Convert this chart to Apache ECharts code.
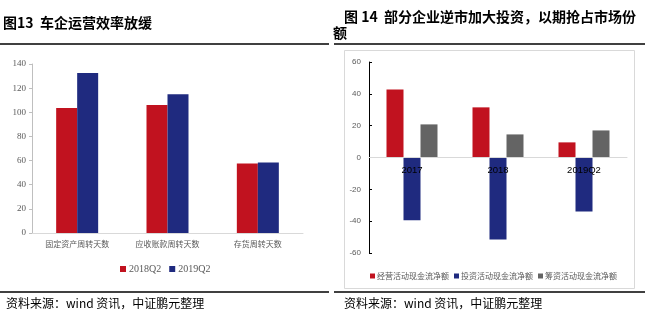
<!DOCTYPE html>
<html>
<head>
<meta charset="utf-8">
<script src="https://cdn.jsdelivr.net/npm/echarts@6/dist/echarts.min.js"></script>
<style>
    html, body { margin: 0; padding: 0; background: #fff; }
    #main { width: 645px; height: 315px; }
</style>
</head>
<body>
<div id="main"></div>
<script>
// 图13 车企运营效率放缓
var turnover_cats = ['固定资产周转天数', '应收账款周转天数', '存货周转天数'];
var turnover_2018q2 = [103.5, 106, 57.5];
var turnover_2019q2 = [132.5, 115, 58.5];

// 图14 部分企业逆市加大投资
var cash_cats = ['2017', '2018', '2019Q2'];
var cash_operating = [42.7, 31.5, 9.5];
var cash_investing = [-39.5, -51.5, -34];
var cash_financing = [20.8, 14.5, 17];

var RED = '#C1121F', NAVY = '#1F2A7F', GREY = '#646464';
var CJK = '"Noto Sans CJK SC", sans-serif';
var SERIF = '"Liberation Serif", "DejaVu Serif", serif';

var myChart = echarts.init(document.getElementById('main'));

var option = {
    animation: false,
    backgroundColor: '#fff',
    graphic: [
        // titles
        {type: 'text', left: 3, top: 16, style: {text: '图13  车企运营效率放缓', font: 'bold 14px ' + CJK, fill: '#000'}},
        {type: 'text', left: 344, top: 10, style: {text: '图 14  部分企业逆市加大投资，以期抢占市场份', font: 'bold 14px ' + CJK, fill: '#000'}},
        {type: 'text', left: 333, top: 26, style: {text: '额', font: 'bold 14px ' + CJK, fill: '#000'}},
        // rules
        {type: 'line', shape: {x1: 0, y1: 44, x2: 329, y2: 44}, style: {stroke: '#000', lineWidth: 1.5}},
        {type: 'line', shape: {x1: 334, y1: 44, x2: 645, y2: 44}, style: {stroke: '#000', lineWidth: 1.5}},
        {type: 'line', shape: {x1: 0, y1: 292, x2: 329, y2: 292}, style: {stroke: '#000', lineWidth: 1.5}},
        {type: 'line', shape: {x1: 334, y1: 292, x2: 645, y2: 292}, style: {stroke: '#000', lineWidth: 1.5}},
        // right chart frame
        {type: 'rect', shape: {x: 344.5, y: 50.5, width: 290, height: 238}, style: {fill: 'none', stroke: '#d9d9d9', lineWidth: 1}},
        // sources
        {type: 'text', left: 6, top: 297, style: {text: '资料来源：wind 资讯，中证鹏元整理', font: '12px ' + CJK, fill: '#000'}},
        {type: 'text', left: 344, top: 297, style: {text: '资料来源：wind 资讯，中证鹏元整理', font: '12px ' + CJK, fill: '#000'}}
    ],
    legend: [
        {
            data: ['2018Q2', '2019Q2'],
            left: 115, top: 259,
            itemWidth: 6, itemHeight: 6, itemGap: 8,
            icon: 'rect',
            textStyle: {fontFamily: SERIF, fontSize: 10, color: '#595959', padding: [0, 0, 0, -2]}
        },
        {
            data: ['经营活动现金流净额', '投资活动现金流净额', '筹资活动现金流净额'],
            left: 365, top: 267,
            itemWidth: 5, itemHeight: 5, itemGap: 5,
            icon: 'rect',
            textStyle: {fontFamily: CJK, fontSize: 8, color: '#595959', padding: [0, 0, 0, -3]}
        }
    ],
    grid: [
        {left: 32, right: 342, top: 64, bottom: 82},
        {left: 369, right: 18, top: 62, bottom: 62}
    ],
    xAxis: [
        {
            gridIndex: 0, type: 'category', data: turnover_cats,
            axisLine: {lineStyle: {color: '#d9d9d9'}},
            axisTick: {show: false},
            axisLabel: {fontFamily: CJK, fontSize: 8, color: '#595959', margin: 7}
        },
        {
            // sits on the zero line of the -60..60 axis (grid height 191 -> 95.5px up)
            gridIndex: 1, type: 'category', data: cash_cats,
            position: 'bottom', offset: -95.5, z: 10,
            axisLine: {onZero: false, lineStyle: {color: '#d9d9d9'}},
            axisTick: {show: false},
            axisLabel: {fontFamily: '"Liberation Sans", sans-serif', fontSize: 9.5, color: '#000', margin: 8}
        }
    ],
    yAxis: [
        {
            gridIndex: 0, type: 'value', min: 0, max: 140, interval: 20,
            axisLine: {show: true, lineStyle: {color: '#bfbfbf'}},
            axisTick: {show: true, length: 3, lineStyle: {color: '#bfbfbf'}},
            splitLine: {show: false},
            axisLabel: {fontFamily: SERIF, fontSize: 9, color: '#595959', margin: 6}
        },
        {
            gridIndex: 1, type: 'value', min: -60, max: 60, interval: 20,
            axisLine: {show: true, lineStyle: {color: '#000'}},
            axisTick: {show: true, inside: true, length: 3, lineStyle: {color: '#000'}},
            splitLine: {show: false},
            axisLabel: {fontFamily: '"Liberation Sans", sans-serif', fontSize: 8, color: '#595959', margin: 8}
        }
    ],
    series: [
        {name: '2018Q2', type: 'bar', xAxisIndex: 0, yAxisIndex: 0, data: turnover_2018q2, barWidth: 21, barGap: '0%', itemStyle: {color: RED}},
        {name: '2019Q2', type: 'bar', xAxisIndex: 0, yAxisIndex: 0, data: turnover_2019q2, barWidth: 21, barGap: '0%', itemStyle: {color: NAVY}},
        {name: '经营活动现金流净额', type: 'bar', xAxisIndex: 1, yAxisIndex: 1, data: cash_operating, barWidth: 17, barGap: '0%', itemStyle: {color: RED}},
        {name: '投资活动现金流净额', type: 'bar', xAxisIndex: 1, yAxisIndex: 1, data: cash_investing, barWidth: 17, barGap: '0%', itemStyle: {color: NAVY}},
        {name: '筹资活动现金流净额', type: 'bar', xAxisIndex: 1, yAxisIndex: 1, data: cash_financing, barWidth: 17, barGap: '0%', itemStyle: {color: GREY}}
    ]
};

myChart.setOption(option);
</script>
</body>
</html>
